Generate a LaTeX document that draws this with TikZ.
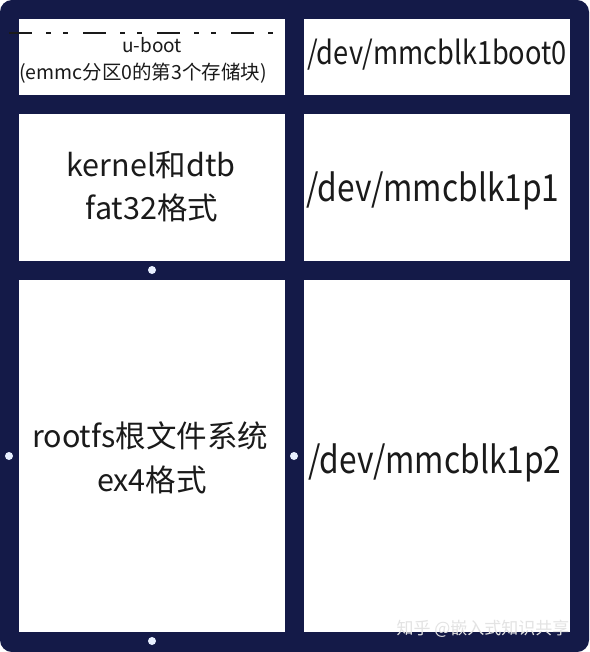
\documentclass[tikz,border=0pt]{standalone}
\usepackage{fontspec}
\setmainfont{Noto Sans CJK SC}
\definecolor{navybg}{RGB}{20,26,72}
\definecolor{inktext}{RGB}{26,26,26}
\definecolor{handlefill}{RGB}{232,240,255}
\tikzset{
  part/.style={fill=white, minimum width=266pt, inner sep=0pt, anchor=north west},
  line/.style={text=inktext, inner sep=0pt, anchor=base},
  devline/.style={line, transform shape, yscale=1.18},
  handle/.style={circle, fill=handlefill, inner sep=0pt, minimum size=8pt},
}

\begin{document}
\begin{tikzpicture}[x=1pt, y=-1pt]
  \useasboundingbox (0,0) rectangle (589,652);
  \fill[white] (0,0) rectangle (589,652);
  \fill[navybg, rounded corners=12pt] (0,0) rectangle (589,652);

  % partitions, left and right column
  \node[part, minimum height=76pt] (uboot) at (19,19) {};
  \node[part, minimum height=147pt] (kernel) at (19,114) {};
  \node[part, minimum height=352pt] (rootfs) at (19,280) {};
  \node[part, minimum height=76pt] (bootdev) at (304,19) {};
  \node[part, minimum height=147pt] (p1dev) at (304,114) {};
  \node[part, minimum height=352pt] (p2dev) at (304,280) {};

  % dash line over u-boot
  \coordinate (dashL) at (9,33);
  \coordinate (dashR) at (275,33);
  \draw[inktext, line width=1.5pt, dash pattern=on 23pt off 14pt on 5pt off 12pt on 5pt off 15pt] (dashL) -- (dashR);

  % texts
  \node[line, font=\fontsize{19}{19}\selectfont] (ubootA) at (152,53) {u-boot};
  \node[line, font=\fontsize{19.5}{19}\selectfont] (ubootB) at (143,80) {(emmc分区0的第3个存储块)};
  \node[line, font=\fontsize{30.5}{30}\selectfont] (kernelA) at (151,177) {kernel和dtb};
  \node[line, font=\fontsize{30.5}{30}\selectfont] (kernelB) at (152,219) {fat32格式};
  \node[line, font=\fontsize{30.5}{30}\selectfont] (rootfsA) at (150,447) {rootfs根文件系统};
  \node[line, font=\fontsize{30.5}{30}\selectfont] (rootfsB) at (152,491) {ex4格式};
  \node[devline, font=\fontsize{27.2}{27}\selectfont] (bootdevA) at (437,65) {/dev/mmcblk1boot0};
  \node[devline, font=\fontsize{31.7}{31}\selectfont] (p1devA) at (433,202) {/dev/mmcblk1p1};
  \node[devline, font=\fontsize{31.7}{31}\selectfont] (p2devA) at (435,473) {/dev/mmcblk1p2};

  % handles
  \node[handle] (h1) at (152,270) {};
  \node[handle] (h2) at (9,456) {};
  \node[handle] (h3) at (294,456) {};
  \node[handle] (h4) at (152,641) {};

  % watermark
  \node[line, text=white!78!gray, font=\fontsize{17}{17}\selectfont] (mark) at (483,634) {知乎 @嵌入式知识共享};
\end{tikzpicture}
\end{document}
